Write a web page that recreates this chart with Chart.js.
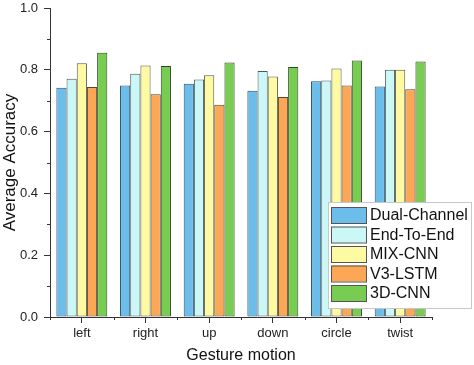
<!DOCTYPE html>
<html>
<head>
<meta charset="utf-8">
<script src="https://cdn.jsdelivr.net/npm/chart.js@4"></script>
<style>
  html, body { margin: 0; padding: 0; background: #fff; }
  #wrap { width: 474px; height: 365px; }
</style>
</head>
<body>
<div id="wrap"><canvas id="accChart"></canvas></div>
<script>
// gesture categories and model accuracies
const gestures = ['left', 'right', 'up', 'down', 'circle', 'twist'];
const modelNames = ['Dual-Channel', 'End-To-End', 'MIX-CNN', 'V3-LSTM', '3D-CNN'];
const dualChannel = [0.742, 0.749, 0.755, 0.732, 0.763, 0.746];
const endToEnd   = [0.771, 0.787, 0.769, 0.796, 0.765, 0.800];
const mixCnn     = [0.821, 0.814, 0.782, 0.778, 0.804, 0.800];
const v3Lstm     = [0.744, 0.721, 0.687, 0.712, 0.749, 0.737];
const cnn3d      = [0.855, 0.812, 0.824, 0.809, 0.830, 0.827];
const yTicks = [0, 0.2, 0.4, 0.6, 0.8, 1.0];

const fills = ['#6cbde9', '#ccf7f7', '#fdfaa3', '#fca755', '#78cc52'];
const edges = ['#24506e', '#4a5a5a', '#5a5a40', '#5a4530', '#2f4a22'];
const seriesValues = [dualChannel, endToEnd, mixCnn, v3Lstm, cnn3d];

const FONT = 'Arial, "Liberation Sans", sans-serif';

// minor ticks + floating legend, drawn after the chart
const extras = {
  id: 'extras',
  afterDraw(chart) {
    const ctx = chart.ctx;
    const area = chart.chartArea;
    const x = chart.scales.x, y = chart.scales.y;
    ctx.save();
    ctx.strokeStyle = '#333';
    ctx.lineWidth = 1;
    // y minor ticks halfway between majors
    for (let i = 0; i < yTicks.length - 1; i++) {
      const py = Math.round(y.getPixelForValue((yTicks[i] + yTicks[i + 1]) / 2)) + 0.5;
      ctx.beginPath();
      ctx.moveTo(area.left - 3, py);
      ctx.lineTo(area.left, py);
      ctx.stroke();
    }
    // x minor ticks at category boundaries
    for (let i = 0; i <= gestures.length; i++) {
      const px = Math.round(x.getPixelForValue(i - 0.5)) + 0.5;
      ctx.beginPath();
      ctx.moveTo(px, area.bottom);
      ctx.lineTo(px, area.bottom + 3);
      ctx.stroke();
    }

    // legend box, overlapping the lower right of the plot
    const lx = area.right - 104, ly = area.bottom - 115;
    const rowH = 19.5, sw = 35, sh = 16;
    ctx.fillStyle = '#fff';
    ctx.fillRect(lx, ly, 143, 106);
    ctx.strokeStyle = '#c8c8c8';
    ctx.strokeRect(lx + 0.5, ly + 0.5, 143, 106);
    ctx.font = '16px ' + FONT;
    ctx.textBaseline = 'middle';
    ctx.textAlign = 'left';
    chart.data.datasets.forEach(function(ds, i) {
      const ry = ly + 5 + i * rowH;
      ctx.fillStyle = ds.backgroundColor;
      ctx.fillRect(lx + 3, ry, sw, sh);
      ctx.strokeStyle = '#555';
      ctx.strokeRect(lx + 3.5, ry + 0.5, sw, sh);
      ctx.fillStyle = '#111';
      ctx.fillText(ds.label, lx + 42, ry + sh / 2 + 1);
    });
    ctx.restore();
  }
};

new Chart(document.getElementById('accChart'), {
  type: 'bar',
  data: {
    labels: gestures,
    datasets: modelNames.map(function(name, i) {
      return {
        label: name,
        data: seriesValues[i],
        backgroundColor: fills[i],
        borderColor: edges[i],
        borderWidth: 1,
        borderSkipped: false,
        categoryPercentage: 0.8,
        barPercentage: 1.0
      };
    })
  },
  options: {
    responsive: true,
    maintainAspectRatio: false,
    animation: false,
    layout: { padding: { top: 8, right: 42, left: 0, bottom: 0 } },
    plugins: {
      legend: { display: false },
      tooltip: { enabled: false }
    },
    scales: {
      x: {
        grid: {
          offset: false,
          drawOnChartArea: false,
          drawTicks: true,
          tickLength: 6,
          color: '#333'
        },
        border: { display: true, color: '#333', width: 1 },
        ticks: {
          color: '#222',
          font: { family: FONT, size: 13 },
          padding: 3,
          maxRotation: 0
        },
        title: {
          display: true,
          text: 'Gesture motion',
          color: '#111',
          font: { family: FONT, size: 16 },
          padding: { top: 4, bottom: 0 }
        },
        afterFit(scale) { scale.height = 48; scale.paddingLeft = 0; scale.paddingRight = 0; }
      },
      y: {
        min: 0,
        max: 1.0,
        grid: {
          drawOnChartArea: false,
          drawTicks: true,
          tickLength: 6,
          color: '#333'
        },
        border: { display: true, color: '#333', width: 1 },
        ticks: {
          stepSize: 0.2,
          color: '#222',
          font: { family: FONT, size: 13 },
          padding: 6,
          callback: function(v) { return v.toFixed(1); }
        },
        title: {
          display: true,
          text: 'Average Accuracy',
          color: '#111',
          font: { family: FONT, size: 17 },
          padding: { top: 0, bottom: 2 }
        },
        afterFit(scale) { scale.width = 50; scale.paddingTop = 0; scale.paddingBottom = 0; }
      }
    }
  },
  plugins: [extras]
});
</script>
</body>
</html>
